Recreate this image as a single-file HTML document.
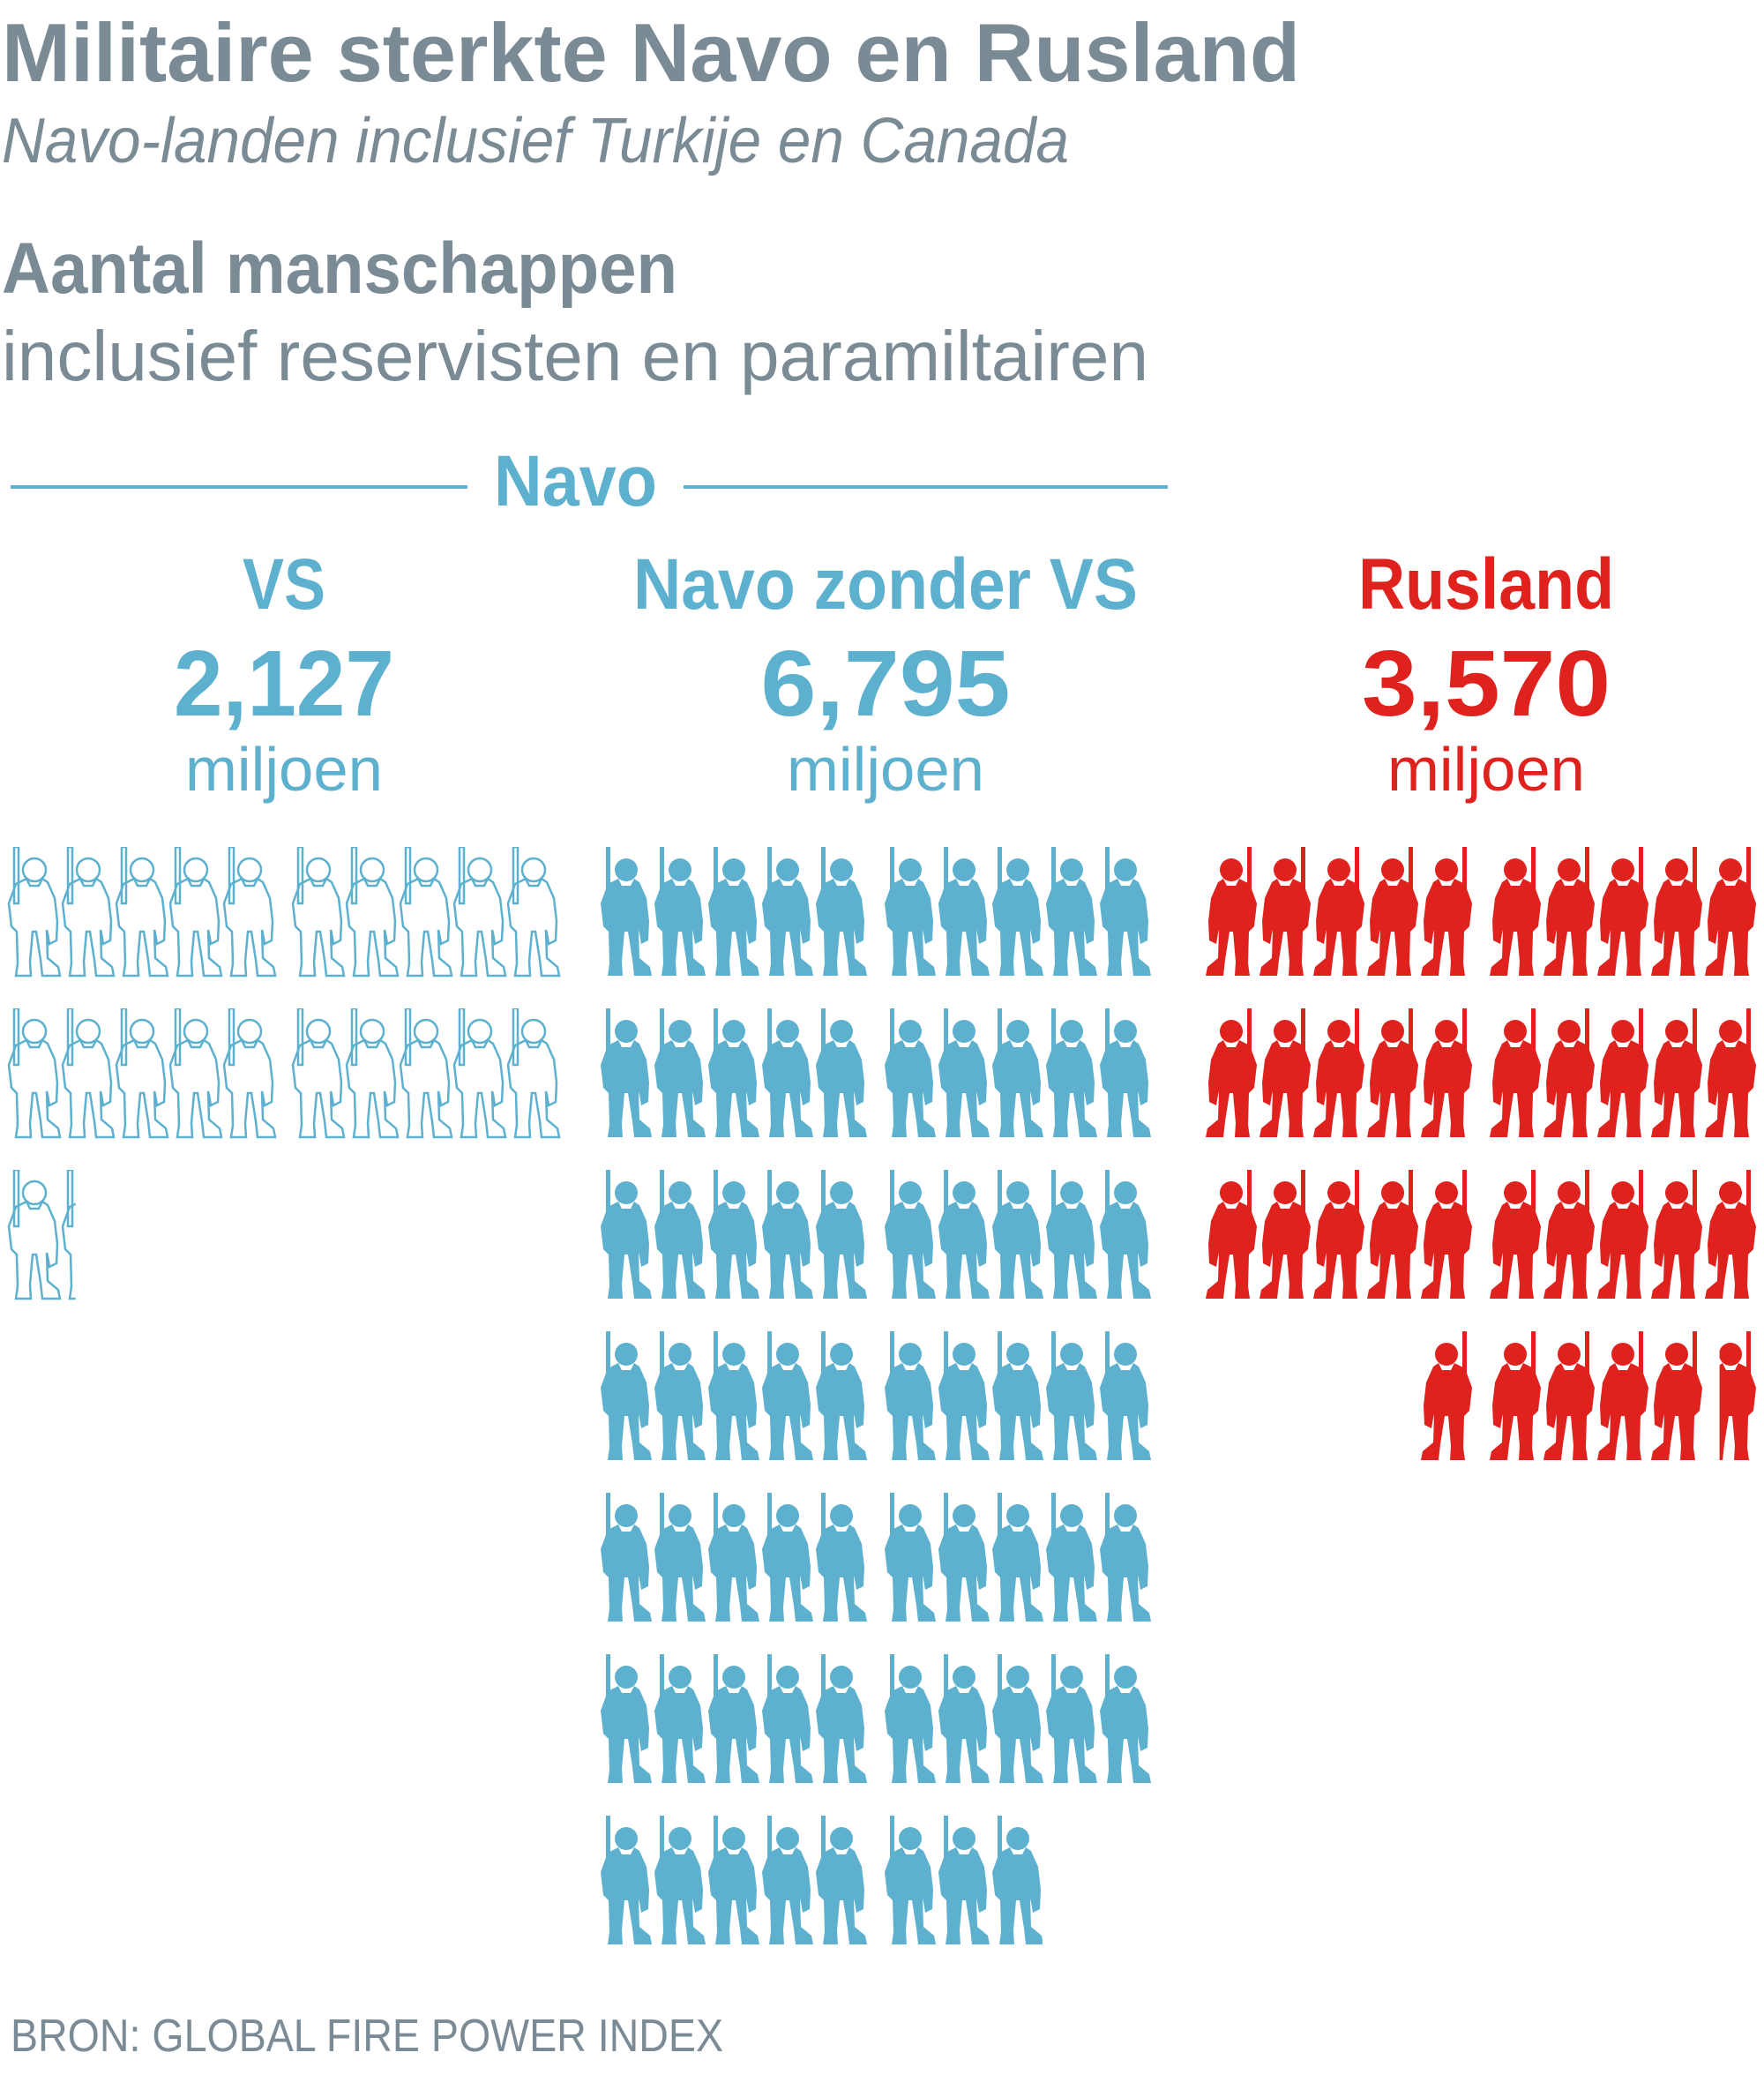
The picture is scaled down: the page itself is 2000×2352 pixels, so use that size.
<!DOCTYPE html>
<html><head><meta charset="utf-8"><style>
html,body{margin:0;padding:0;background:#fff;}
svg{display:block;}
</style></head><body>
<svg id="chart" width="2000" height="2352" viewBox="0 0 2000 2352" xmlns="http://www.w3.org/2000/svg" font-family="Liberation Sans, sans-serif">
<defs>
<g id="soldier-shape">
<path d="M10,42 L22,36 L26,44 L36,44 L40,36 L46,40 L54,58 L57,84 L56,106 L48,110 L46,98 L45,94 L46,126 L58,136 L60,146 L40,146 L38,128 L33,96 L29,96 L26,130 L27,146 L10,146 L12,132 L11,96 L5,90 L2,64 Z"/>
<rect x="8" y="0" width="5" height="64"/>
<circle cx="31" cy="26" r="13"/>
</g>
</defs>
<text x="2" y="92" font-size="94" font-weight="bold" fill="#7b8b96" textLength="1472" lengthAdjust="spacingAndGlyphs">Militaire sterkte Navo en Rusland</text>
<text x="2" y="184" font-size="72" font-style="italic" fill="#7b8b96" textLength="1210" lengthAdjust="spacingAndGlyphs">Navo-landen inclusief Turkije en Canada</text>
<text x="2" y="332" font-size="82" font-weight="bold" fill="#7b8b96" textLength="766" lengthAdjust="spacingAndGlyphs">Aantal manschappen</text>
<text x="2" y="431" font-size="80" fill="#7b8b96" textLength="1300" lengthAdjust="spacingAndGlyphs">inclusief reservisten en paramiltairen</text>
<line x1="12" y1="552" x2="530" y2="552" stroke="#5db1cf" stroke-width="4"/>
<line x1="775" y1="552" x2="1324" y2="552" stroke="#5db1cf" stroke-width="4"/>
<text x="560" y="573" font-size="82" font-weight="bold" fill="#5db1cf" textLength="185" lengthAdjust="spacingAndGlyphs">Navo</text>
<g id="groups"></g>
<text x="12" y="2325" font-size="52" fill="#7b8b96" textLength="808" lengthAdjust="spacingAndGlyphs">BRON: GLOBAL FIRE POWER INDEX</text>
</svg>
<script>
const categories = ["VS", "Navo zonder VS", "Rusland"];
const values = [2.127, 6.795, 3.570];
const valueLabels = ["2,127", "6,795", "3,570"];
const unitLabel = "miljoen";
const perIcon = 0.1;

const NS = "http://www.w3.org/2000/svg";
const cfg = [
  {x0: 8, color: "#5db1cf", outline: true, mirror: false, right: false, cx: 322, hw: 94, nw: 250, name: "vs"},
  {x0: 679, color: "#5db1cf", outline: false, mirror: false, right: false, cx: 1004, hw: 572, nw: 283, name: "navo-zonder-vs"},
  {x0: 1365, color: "#e0221f", outline: false, mirror: true, right: true, cx: 1685, hw: 290, nw: 282, name: "rusland"}
];
const ICON_W = 62, ICON_H = 148, PITCH = 61, GROUP = 322, ROW0 = 960, ROWP = 183;
function iconX(c, col) { return c.x0 + Math.floor(col / 5) * GROUP + (col % 5) * PITCH; }
function rowY(r) { return ROW0 + r * ROWP; }

const root = document.getElementById("groups");
categories.forEach((cat, i) => {
  const c = cfg[i];
  const g = document.createElementNS(NS, "g");
  
  
  root.appendChild(g);
  const mk = (tag, attrs, txt) => { const e = document.createElementNS(NS, tag); for (const k in attrs) e.setAttribute(k, attrs[k]); if (txt) e.textContent = txt; g.appendChild(e); return e; };
  const h = mk("text", {x: c.cx, y: 690, "font-size": 82, "font-weight": "bold", fill: c.color, "text-anchor": "middle", textLength: c.hw, lengthAdjust: "spacingAndGlyphs"}, cat);
  
  
  const n = mk("text", {x: c.cx, y: 811, "font-size": 106, "font-weight": "bold", fill: c.color, "text-anchor": "middle", textLength: c.nw, lengthAdjust: "spacingAndGlyphs"}, valueLabels[i]);
  
  
  const u = mk("text", {x: c.cx, y: 896, "font-size": 70, fill: c.color, "text-anchor": "middle", textLength: 224, lengthAdjust: "spacingAndGlyphs"}, unitLabel);
  
  

  const count = values[i] / perIcon;
  const n_icons = Math.ceil(count - 1e-9);
  for (let k = 0; k < n_icons; k++) {
    const frac = Math.min(1, count - k);
    const row = Math.floor(k / 10);
    const inRow = k % 10;
    let col = inRow;
    const rowCount = Math.min(10, n_icons - row * 10);
    if (c.right) col = 10 - rowCount + inRow;
    const x = iconX(c, col), y = rowY(row);
    const w = ICON_W * frac;
    const sv = document.createElementNS(NS, "svg");
    
    
    const cutLeft = c.right && frac < 1;
    sv.setAttribute("x", cutLeft ? x + ICON_W - w : x);
    sv.setAttribute("y", y);
    sv.setAttribute("width", w);
    sv.setAttribute("height", ICON_H);
    sv.setAttribute("viewBox", (cutLeft ? (ICON_W - w) : 0) + " 0 " + w + " " + ICON_H);
    const use = document.createElementNS(NS, "use");
    use.setAttribute("href", "#soldier-shape");
    if (c.mirror) use.setAttribute("transform", "translate(" + ICON_W + ",0) scale(-1,1)");
    if (c.outline) { use.setAttribute("fill", "none"); use.setAttribute("stroke", c.color); use.setAttribute("stroke-width", "2.5"); }
    else use.setAttribute("fill", c.color);
    sv.appendChild(use);
    g.appendChild(sv);
  }
});
</script>
</body></html>
